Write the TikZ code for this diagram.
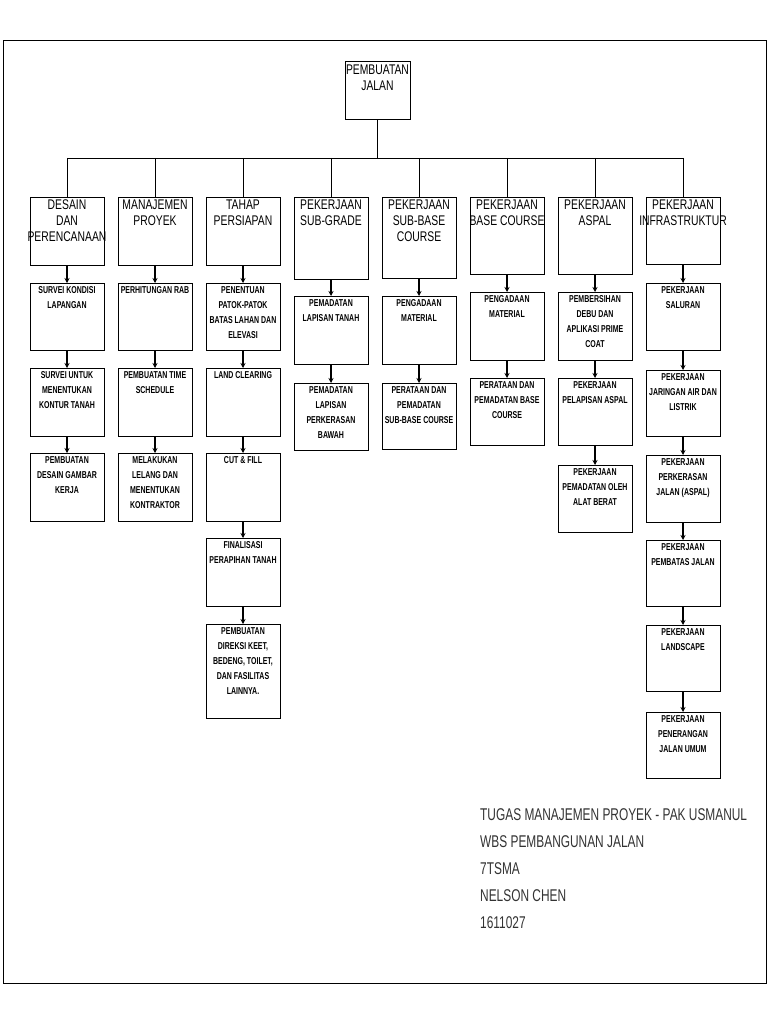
\documentclass[tikz,border=0pt]{standalone}
\usepackage{fontspec}
\setmainfont{Liberation Sans}
\newfontfamily\nar[FakeStretch=0.74]{Liberation Sans}
\newfontfamily\narr[FakeStretch=0.7]{Liberation Sans}
\usetikzlibrary{arrows.meta}
\tikzset{
 box/.style={draw, line width=1pt, minimum width=74pt, inner sep=0pt},
 big/.style={font=\nar\fontsize{14}{16}\selectfont, inner sep=3pt},
 sml/.style={font=\narr\bfseries\fontsize{10}{15}\selectfont, inner sep=3pt},
 arr/.style={line width=1.1pt, -{Stealth[length=5pt,width=5pt]}},
 ln/.style={line width=0.8pt}
}
\newcommand\bx[6]{\node[box, minimum height={#4-#3}, anchor=north] (#1) at (#2,#3) {};
 \node[#6, anchor=north, align=center] (#1t) at (#2,#3) {#5};}
\begin{document}
\begin{tikzpicture}[x=1pt,y=-1pt]
\useasboundingbox (0,0) rectangle (768,1024);
\draw[line width=1pt] (3,41) rectangle (766,983);
\node[box, minimum width=65pt, minimum height=58pt, anchor=north] (top) at (377.5,61) {};
\node[big, anchor=north, align=center] (topt) at (377.5,62) {PEMBUATAN\\JALAN};
\coordinate (hub) at (377.5,158);
\coordinate (hl) at (67,158);
\coordinate (hr) at (683,158);
\draw[ln] (top.south) -- (hub);
\draw[ln] (hl) -- (hr);
% level 1
\bx{a1}{67}{197}{265}{DESAIN\\DAN\\PERENCANAAN}{big}
\bx{b1}{155}{197}{265}{MANAJEMEN\\PROYEK}{big}
\bx{c1}{243}{197}{265}{TAHAP\\PERSIAPAN}{big}
\bx{d1}{331}{197}{279}{PEKERJAAN\\SUB-GRADE}{big}
\bx{e1}{419}{197}{278}{PEKERJAAN\\SUB-BASE\\COURSE}{big}
\bx{f1}{507}{197}{274}{PEKERJAAN\\BASE COURSE}{big}
\bx{g1}{595}{197}{274}{PEKERJAAN\\ASPAL}{big}
\bx{h1}{683}{197}{264}{PEKERJAAN\\INFRASTRUKTUR}{big}
\foreach \n in {a,b,c,d,e,f,g,h}{
 \path (\n1.north) ++(0,-39) coordinate (\n0);
 \draw[ln] (\n0) -- (\n1.north);}
% col a
\bx{a2}{67}{283}{350}{SURVEI KONDISI\\LAPANGAN}{sml}
\bx{a3}{67}{368}{436}{SURVEI UNTUK\\MENENTUKAN\\KONTUR TANAH}{sml}
\bx{a4}{67}{453}{521}{PEMBUATAN\\DESAIN GAMBAR\\KERJA}{sml}
% col b
\bx{b2}{155}{283}{350}{PERHITUNGAN RAB}{sml}
\bx{b3}{155}{368}{436}{PEMBUATAN TIME\\SCHEDULE}{sml}
\bx{b4}{155}{453}{521}{MELAKUKAN\\LELANG DAN\\MENENTUKAN\\KONTRAKTOR}{sml}
% col c
\bx{c2}{243}{283}{350}{PENENTUAN\\PATOK-PATOK\\BATAS LAHAN DAN\\ELEVASI}{sml}
\bx{c3}{243}{368}{436}{LAND CLEARING}{sml}
\bx{c4}{243}{453}{521}{CUT \& FILL}{sml}
\bx{c5}{243}{538}{606}{FINALISASI\\PERAPIHAN TANAH}{sml}
\bx{c6}{243}{624}{718}{PEMBUATAN\\DIREKSI KEET,\\BEDENG, TOILET,\\DAN FASILITAS\\LAINNYA.}{sml}
% col d
\bx{d2}{331}{296}{364}{PEMADATAN\\LAPISAN TANAH}{sml}
\bx{d3}{331}{383}{450}{PEMADATAN\\LAPISAN\\PERKERASAN\\BAWAH}{sml}
% col e
\bx{e2}{419}{296}{364}{PENGADAAN\\MATERIAL}{sml}
\bx{e3}{419}{383}{449}{PERATAAN DAN\\PEMADATAN\\SUB-BASE COURSE}{sml}
% col f
\bx{f2}{507}{292}{360}{PENGADAAN\\MATERIAL}{sml}
\bx{f3}{507}{378}{445}{PERATAAN DAN\\PEMADATAN BASE\\COURSE}{sml}
% col g
\bx{g2}{595}{292}{360}{PEMBERSIHAN\\DEBU DAN\\APLIKASI PRIME\\COAT}{sml}
\bx{g3}{595}{378}{445}{PEKERJAAN\\PELAPISAN ASPAL}{sml}
\bx{g4}{595}{465}{532}{PEKERJAAN\\PEMADATAN OLEH\\ALAT BERAT}{sml}
% col h
\bx{h2}{683}{283}{350}{PEKERJAAN\\SALURAN}{sml}
\bx{h3}{683}{370}{436}{PEKERJAAN\\JARINGAN AIR DAN\\LISTRIK}{sml}
\bx{h4}{683}{455}{522}{PEKERJAAN\\PERKERASAN\\JALAN (ASPAL)}{sml}
\bx{h5}{683}{540}{606}{PEKERJAAN\\PEMBATAS JALAN}{sml}
\bx{h6}{683}{625}{691}{PEKERJAAN\\LANDSCAPE}{sml}
\bx{h7}{683}{712}{778}{PEKERJAAN\\PENERANGAN\\JALAN UMUM}{sml}
\foreach \a/\b in {a1/a2,a2/a3,a3/a4,b1/b2,b2/b3,b3/b4,c1/c2,c2/c3,c3/c4,c4/c5,c5/c6,
 d1/d2,d2/d3,e1/e2,e2/e3,f1/f2,f2/f3,g1/g2,g2/g3,g3/g4,h1/h2,h2/h3,h3/h4,h4/h5,h5/h6,h6/h7}
 \draw[arr] (\a.south) -- (\b.north);
\node[anchor=north west, align=left, inner sep=0pt, font=\narr\fontsize{17}{27}\selectfont, text=black!80] (info) at (480,808)
 {TUGAS MANAJEMEN PROYEK - PAK USMANUL\\WBS PEMBANGUNAN JALAN\\7TSMA\\NELSON CHEN\\1611027};
\end{tikzpicture}
\end{document}
